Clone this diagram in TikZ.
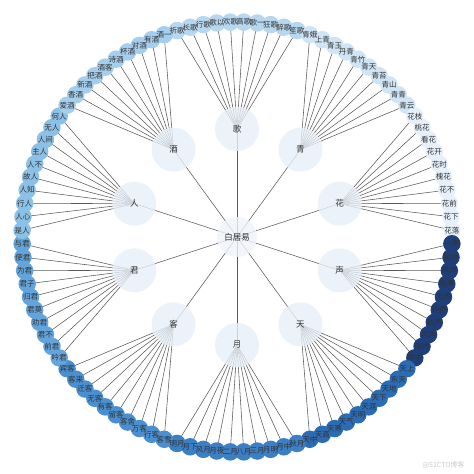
\documentclass[tikz,border=0pt]{standalone}
\usepackage{fontspec}
\setmainfont{Noto Sans CJK SC}
\pgfdeclarelayer{bg}
\pgfdeclarelayer{mid}
\pgfsetlayers{bg,mid,main}
\definecolor{c0}{HTML}{B7D7EF}
\definecolor{c1}{HTML}{CFE4F5}
\definecolor{c2}{HTML}{E6F0FA}
\definecolor{c3}{HTML}{1E3F7A}
\definecolor{c4}{HTML}{2C6CB5}
\definecolor{c5}{HTML}{3B7FC5}
\definecolor{c6}{HTML}{4A90D0}
\definecolor{c7}{HTML}{62A4DB}
\definecolor{c8}{HTML}{8BC0E7}
\definecolor{c9}{HTML}{A4CEEE}
\definecolor{linkgray}{HTML}{5A5A5A}
\definecolor{labelgray}{HTML}{333333}
\definecolor{innerfill}{HTML}{E8EFF8}
\tikzset{
  link/.style={draw=linkgray, line width=0.55pt},
  outerdot/.style={circle, inner sep=0pt, minimum size=17.5pt, fill=#1},
  outerlab/.style={inner sep=0pt, font=\fontsize{7.5}{8}\selectfont, text=labelgray},
  innerdot/.style={circle, inner sep=0pt, minimum size=44pt, fill=innerfill, fill opacity=0.8},
  innerlab/.style={inner sep=0pt, font=\fontsize{8.5}{9}\selectfont, text=labelgray},
}
\begin{document}
\begin{tikzpicture}[x=1pt,y=1pt]
\useasboundingbox (0,0) rectangle (474,474);
\begin{pgfonlayer}{bg}
\fill[white] (0,0) rectangle (474,474);
\end{pgfonlayer}
\begin{pgfonlayer}{mid}
\node[innerdot, minimum size=40pt, fill=innerfill!70] (root) at (237,237) {};
\end{pgfonlayer}
\node[innerlab] at (root) {白居易};
\foreach \g/\word/\labs in {
 0/歌/{折歌,长歌,行歌,歌以,欢歌,高歌,歌一,狂歌,醉歌,笙歌},
 1/青/{青娥,上青,青玉,丹青,青竹,青天,青苔,青山,青青,青云},
 2/花/{花枝,桃花,看花,花开,花时,槐花,花不,花前,花下,花落},
 3/声/{一声,歌声,声声,有声,无声,钟声,秋声,风声,雨声,声中},
 4/天/{天上,东天,天地,天下,天涯,天明,天气,天寒,天高,天中},
 5/月/{秋月,月中,月明,三月,八月,二月,月夜,风月,月下,明月},
 6/客/{客雪,行客,万客,客舍,留客,有客,无客,迁客,客来,宾客},
 7/君/{吟君,前君,君不,劝君,君莫,归君,君子,为君,使君,与君},
 8/人/{是人,人心,行人,人知,故人,人不,主人,人间,无人,何人},
 9/酒/{爱酒,香酒,新酒,把酒,酒客,诗酒,杯酒,对酒,有酒,酒一}}
{
  \pgfmathsetmacro\ia{90-36*\g}
  \begin{pgfonlayer}{mid}
  \node[innerdot] (in\g) at ({237+108*cos(\ia)},{237+108*sin(\ia)}) {};
  \end{pgfonlayer}
  \node[innerlab] at (in\g) {\word};
  \begin{pgfonlayer}{bg}
  \draw[link] (root.center) -- (in\g.center);
  \end{pgfonlayer}
  \foreach \lab [count=\k from 0] in \labs {
    \pgfmathsetmacro\oa{90-36*\g+16.2-3.6*\k}
    \begin{pgfonlayer}{mid}
    \node[outerdot=c\g] (o\g-\k) at ({237+215*cos(\oa)},{237+215*sin(\oa)}) {};
    \end{pgfonlayer}
    \node[outerlab] at (o\g-\k) {\lab};
    \begin{pgfonlayer}{bg}
    \draw[link] (o\g-\k.center) -- (in\g.center);
    \end{pgfonlayer}
  }
}
\node[font=\fontsize{7}{7}\selectfont, text=black!20, anchor=east] (wm) at (468,9) {@51CTO博客};
\end{tikzpicture}
\end{document}
